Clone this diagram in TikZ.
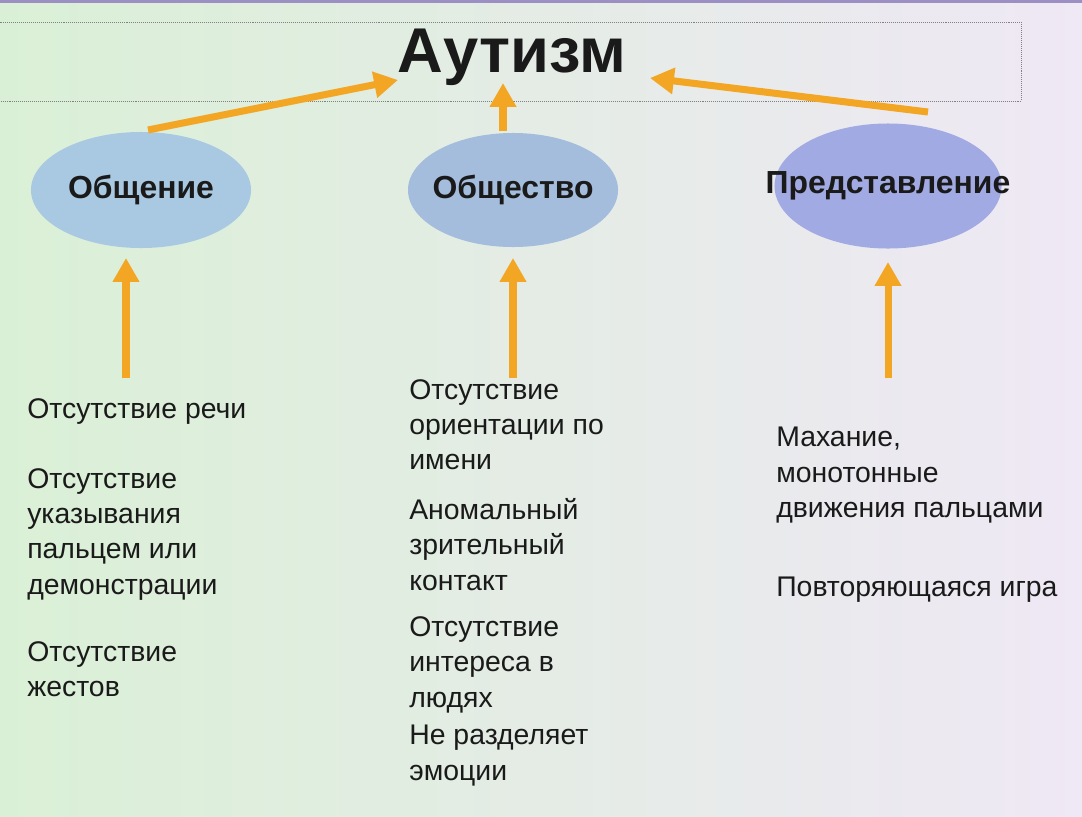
\documentclass[tikz,border=0pt]{standalone}
\usepackage{fontspec}
\setmainfont{Liberation Sans}
\usetikzlibrary{shapes.geometric,arrows.meta}

\definecolor{bgleft}{HTML}{DAF0D6}
\definecolor{bgright}{HTML}{EFE8F5}
\definecolor{stripe}{HTML}{9C8FC4}
\definecolor{arrowor}{HTML}{F2A623}
\definecolor{ellone}{HTML}{A9C9E2}
\definecolor{elltwo}{HTML}{A4BDDD}
\definecolor{ellthree}{HTML}{A2AAE3}
\definecolor{ink}{HTML}{1A1A1A}

\tikzset{
	oval/.style={ellipse, inner sep=0pt, inner xsep=-32pt, text=ink,
		font=\fontsize{22.7}{26}\selectfont\bfseries},
	item/.style={anchor=north west, inner sep=0pt, align=left, text=ink,
		font=\fontsize{20.2}{25.2}\selectfont},
	uparrow/.style={draw=arrowor, line width=5pt,
		-{Triangle[length=17pt, width=18pt]}}
}

\begin{document}
\begin{tikzpicture}[x=0.025cm, y=-0.025cm]
	\useasboundingbox (0,0) rectangle (1082,816);
	\shade[left color=bgleft, right color=bgright] (0,0) rectangle (1082,816);
	\fill[stripe] (0,0) rectangle (1082,3);

	\draw[densely dotted, gray] (-5,22) rectangle (1021,101);
	\node[text=ink, font=\fontsize{45}{50}\selectfont\bfseries] (autism) at (512,57) {Аутизм};

	\node[oval, fill=ellone, minimum width=5.5cm, minimum height=2.9cm] (obshch) at (141,190) {Общение};
	\node[oval, fill=elltwo, minimum width=5.25cm, minimum height=2.85cm] (obshchestvo) at (513,190) {Общество};
	\node[oval, fill=ellthree, minimum width=5.675cm, minimum height=3.125cm] (predst) at (888,186) {Представление};

	\coordinate (a1) at (148,130);
	\coordinate (t1) at (398,80);
	\coordinate (a2) at (503,131);
	\coordinate (t2) at (503,83);
	\coordinate (a3) at (928,112);
	\coordinate (t3) at (650,78);

	\draw[uparrow] (a1) -- (t1);
	\draw[uparrow] (a2) -- (t2);
	\draw[uparrow] (a3) -- (t3);

	\coordinate (b1) at (126,378);
	\coordinate (b2) at (513,378);
	\coordinate (b3) at (888,378);
	\coordinate (s1) at (126,258);
	\coordinate (s2) at (513,258);
	\coordinate (s3) at (888,262);

	\draw[uparrow] (b1) -- (s1);
	\draw[uparrow] (b2) -- (s2);
	\draw[uparrow] (b3) -- (s3);

	% left column
	\node[item] (speech) at (27,398) {Отсутствие речи};
	\node[item] (pointing) at (27,468) {Отсутствие\\указывания\\пальцем или\\демонстрации};
	\node[item] (gestures) at (27,641) {Отсутствие\\жестов};

	% middle column
	\node[item] (name) at (409,379) {Отсутствие\\ориентации по\\имени};
	\node[item] (contact) at (409,498) {Аномальный\\зрительный\\контакт};
	\node[item] (interest) at (409,616) {Отсутствие\\интереса в\\людях};
	\node[item] (emotions) at (409,725) {Не разделяет\\эмоции};

	% right column
	\node[item] (waving) at (776,427) {Махание,\\монотонные\\движения пальцами};
	\node[item] (play) at (776,577) {Повторяющаяся игра};
\end{tikzpicture}
\end{document}
